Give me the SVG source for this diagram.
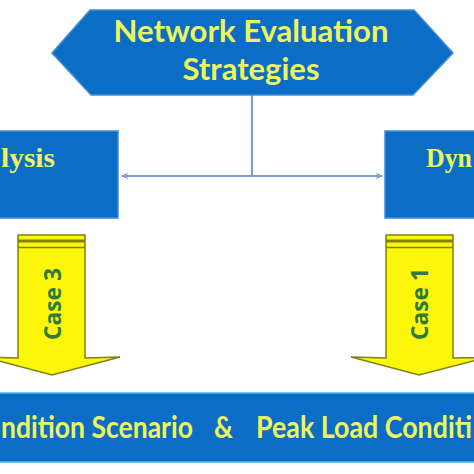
<svg xmlns="http://www.w3.org/2000/svg" width="474" height="474" viewBox="0 0 474 474">
<defs>
<style>
.blue{fill:#0b6dc5;stroke:#3f8fd8;stroke-width:1.5}
.ytxt{fill:#eef65c;font-family:Lato,"Open Sans",sans-serif;font-weight:bold;font-size:30px}
.serif{fill:#eef65c;font-family:"Liberation Serif",serif;font-weight:bold;font-size:28px}
.arrow{fill:#fbf60a;stroke:#7f7f1c;stroke-width:1.5}
.band{stroke:#7f7f1c}
.case{fill:#2e7b3a;font-family:"Open Sans",sans-serif;font-weight:bold;font-size:24px}
.conn{stroke:#7c9fcc;stroke-width:2.2;fill:none}
</style>
<marker id="ah" viewBox="0 0 10 10" refX="9" refY="5" markerWidth="7" markerHeight="7" orient="auto-start-reverse" markerUnits="userSpaceOnUse">
<path d="M0,0 L10,5 L0,10 L3,5 z" fill="#7c9fcc"/>
</marker>
</defs>
<rect width="474" height="474" fill="#ffffff"/>
<g id="connectors">
<line class="conn" x1="252" y1="95" x2="252" y2="176"/>
<line class="conn" x1="122" y1="176" x2="382" y2="176" marker-start="url(#ah)" marker-end="url(#ah)"/>
</g>
<g id="header">
<polygon class="blue" points="52,53 90,10 414,10 453,53 413,95 91,95"/>
<text class="ytxt" x="251" y="42" text-anchor="middle" textLength="275" lengthAdjust="spacingAndGlyphs">Network Evaluation</text>
<text class="ytxt" x="251" y="80" text-anchor="middle" textLength="137" lengthAdjust="spacingAndGlyphs">Strategies</text>
</g>
<g id="left-box">
<rect class="blue" x="-2" y="131" width="120" height="87"/>
<text class="serif" x="1" y="167" textLength="54" lengthAdjust="spacingAndGlyphs">lysis</text>
</g>
<g id="right-box">
<rect class="blue" x="385" y="131" width="92" height="87"/>
<text class="serif" x="426" y="167" textLength="46" lengthAdjust="spacingAndGlyphs">Dyn</text>
</g>
<g id="left-arrow">
<polygon class="arrow" points="18,235 85,235 85,358 120,357 52,375 -16,357 18,358"/>
<line class="band" x1="18" y1="241" x2="85" y2="241" stroke-width="3"/>
<line class="band" x1="18" y1="247.5" x2="85" y2="247.5" stroke-width="1.5"/>
<text class="case" transform="translate(61,304) rotate(-90)" text-anchor="middle" textLength="72" lengthAdjust="spacingAndGlyphs">Case 3</text>
</g>
<g id="right-arrow">
<polygon class="arrow" points="386,235 453,235 453,358 488,357 419,375 351,357 386,358"/>
<line class="band" x1="386" y1="241" x2="453" y2="241" stroke-width="3"/>
<line class="band" x1="386" y1="247.5" x2="453" y2="247.5" stroke-width="1.5"/>
<text class="case" transform="translate(428,304) rotate(-90)" text-anchor="middle" textLength="72" lengthAdjust="spacingAndGlyphs">Case 1</text>
</g>
<g id="bottom-bar">
<rect x="-2" y="393" width="478" height="69" fill="#0b6dc5" stroke="#4fb3ea" stroke-width="1.5"/>
<text class="ytxt" x="1" y="438" textLength="192" lengthAdjust="spacingAndGlyphs">ndition Scenario</text>
<text class="ytxt" x="214" y="438" textLength="19" lengthAdjust="spacingAndGlyphs">&amp;</text>
<text class="ytxt" x="256" y="438" textLength="216" lengthAdjust="spacingAndGlyphs">Peak Load Conditi</text>
</g>
</svg>
